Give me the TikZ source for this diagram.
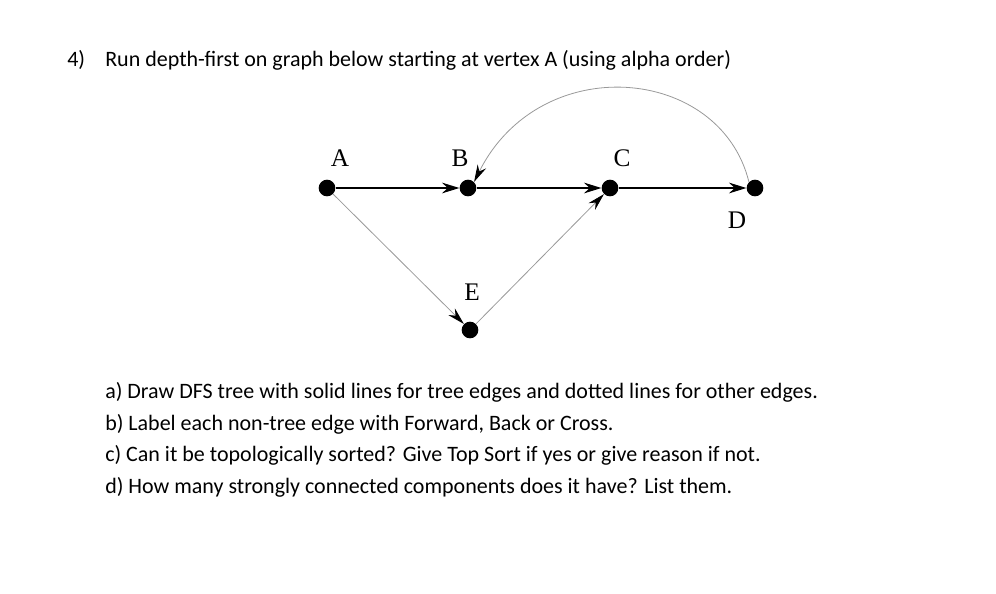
\documentclass[tikz,border=0pt]{standalone}
\usepackage{fontspec}
\setmainfont{Carlito}
\newfontfamily\tms{Liberation Serif}
\usetikzlibrary{arrows.meta}
\begin{document}
\begin{tikzpicture}[x=0.75pt,y=-0.75pt,
  vtx/.style={circle,fill=black,inner sep=0pt,minimum size=12.5pt},
  lab/.style={font=\tms\fontsize{19}{21}\selectfont},
  tree/.style={line width=1.4pt,-{Stealth[length=13pt,width=8pt]}},
  thin/.style={gray!80,line width=0.6pt,-{Stealth[black,length=13pt,width=7pt]}},
  txt/.style={anchor=west,font=\fontsize{16.5}{19}\selectfont,inner sep=0pt}]
\useasboundingbox (0,0) rectangle (996,593);
\node[vtx] (A) at (327,188) {};
\node[vtx] (B) at (468,188) {};
\node[vtx] (C) at (610,188) {};
\node[vtx] (D) at (755,188) {};
\node[vtx] (E) at (470,330) {};
\node[lab] (la) at (340,158) {A};
\node[lab] (lb) at (460,158) {B};
\node[lab] (lc) at (622,158) {C};
\node[lab] (ld) at (737,220) {D};
\node[lab] (le) at (472,292) {E};
\draw[tree] (A) -- (B);
\draw[tree] (B) -- (C);
\draw[tree] (C) -- (D);
\draw[thin] (A) -- (E);
\draw[thin] (E) -- (C);
\draw[thin] (D.north west) .. controls (720,65) and (540,50) .. (B.north east);
\node[txt] (n4) at (67,60) {4)};
\node[txt] (q) at (105,60) {Run depth-first on graph below starting at vertex A (using alpha order)};
\node[txt] (qa) at (105,392) {a) Draw DFS tree with solid lines for tree edges and dotted lines for other edges.};
\node[txt] (qb) at (105,424) {b) Label each non-tree edge with Forward, Back or Cross.};
\node[txt] (qc) at (105,455) {c) Can it be topologically sorted? Give Top Sort if yes or give reason if not.};
\node[txt] (qd) at (105,487) {d) How many strongly connected components does it have? List them.};
\end{tikzpicture}
\end{document}
